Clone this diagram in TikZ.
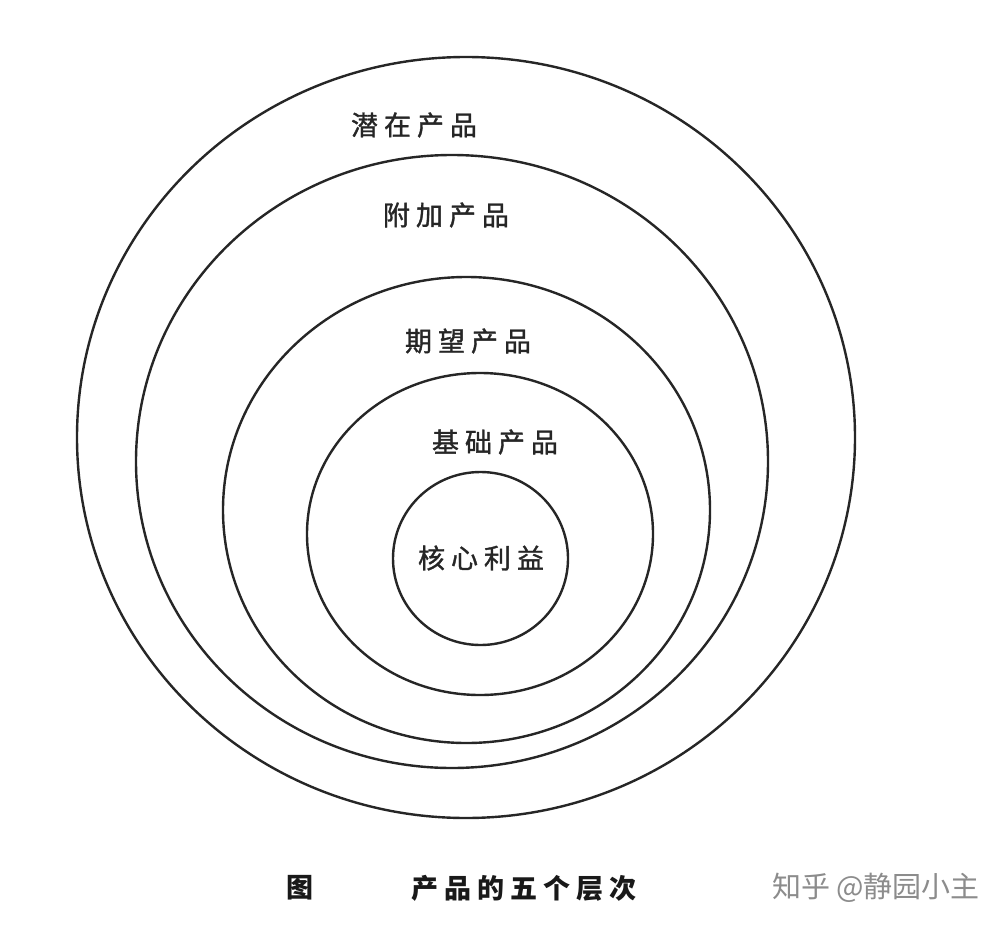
\documentclass[tikz,border=0pt]{standalone}
\usepackage{fontspec}
\usetikzlibrary{shapes.geometric}
\newfontfamily\cjk{Noto Sans CJK SC}
\newfontfamily\cjkmed{Noto Sans CJK SC}[FakeBold=1.2]
\newcommand\gapch{\kern6pt}
\begin{document}
\begin{tikzpicture}[x=1pt,y=-1pt,
  ring/.style={draw=black!85, line width=2.4pt, ellipse, inner sep=0pt, outer sep=0pt},
  lbl/.style={font=\cjkmed\fontsize{27}{30}\selectfont, text=black!85, inner sep=0pt},
  captext/.style={font=\cjk\bfseries\fontsize{27}{30}\selectfont, text=black!90, inner sep=0pt},
  wm/.style={font=\cjk\fontsize{29}{32}\selectfont, text=black!45, inner sep=0pt}]
\useasboundingbox (0,0) rectangle (1006,934);
\fill[white] (0,0) rectangle (1006,934);
\node[ring, minimum width=778pt, minimum height=761pt] (l5) at (466,437.5) {};
\node[ring, minimum width=632pt, minimum height=613pt] (l4) at (452,461.5) {};
\node[ring, minimum width=487pt, minimum height=466pt] (l3) at (466.5,510) {};
\node[ring, minimum width=346pt, minimum height=322pt] (l2) at (480,534) {};
\node[ring, minimum width=175pt, minimum height=173pt] (l1) at (480.5,558.5) {};
\node[lbl] (t5) at (414,125) {潜\gapch 在\gapch 产\gapch 品};
\node[lbl] (t4) at (446,215) {附\gapch 加\gapch 产\gapch 品};
\node[lbl] (t3) at (468,341) {期\gapch 望\gapch 产\gapch 品};
\node[lbl] (t2) at (495,442) {基\gapch 础\gapch 产\gapch 品};
\node[lbl] (t1) at (481,558) {核\gapch 心\gapch 利\gapch 益};
\node[captext] (fig) at (300,888) {图};
\node[captext] (title) at (524,888) {产\gapch 品\gapch 的\gapch 五\gapch 个\gapch 层\gapch 次};
\node[wm] (mark) at (876,888) {知乎 @静园小主};
\end{tikzpicture}
\end{document}
